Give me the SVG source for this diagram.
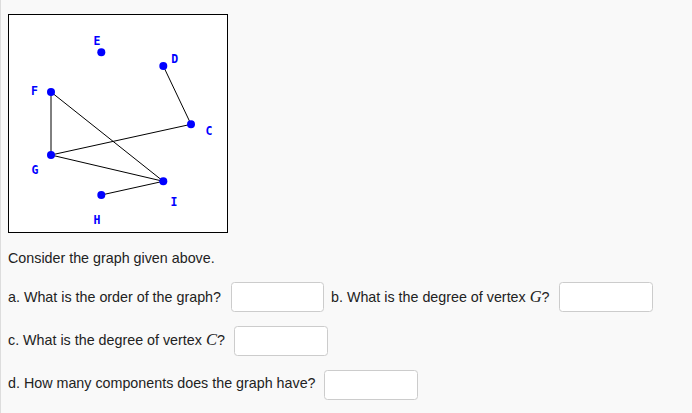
<svg xmlns="http://www.w3.org/2000/svg" width="692" height="413" viewBox="0 0 692 413">
<style>
.lbl{font-family:"DejaVu Sans Mono","Liberation Mono",monospace;font-weight:bold;font-size:11.5px;fill:#0000ff;text-anchor:middle}
.v{fill:#0000ff}
.e{stroke:#000;stroke-width:1;fill:none}
.q{font-family:"Liberation Sans",Arial,sans-serif;font-size:14.3px;fill:#222}
.m{font-family:"Liberation Serif","Times New Roman",serif;font-style:italic;font-size:16.5px}
.box{fill:#fff;stroke:#ccc;stroke-width:1}
</style>
<rect width="692" height="413" fill="#f9f9f9"/>
<line x1="0.5" y1="0" x2="0.5" y2="413" stroke="#ddd"/>
<rect x="8.5" y="14.5" width="219" height="218" fill="#fff" stroke="#000"/>
<g id="edges">
<line class="e" x1="163.3" y1="66" x2="191" y2="124.3"/>
<line class="e" x1="51" y1="92" x2="51" y2="155"/>
<line class="e" x1="51" y1="92" x2="163.3" y2="181.3"/>
<line class="e" x1="51" y1="155" x2="191" y2="124.3"/>
<line class="e" x1="51" y1="155" x2="163.3" y2="181.3"/>
<line class="e" x1="101.3" y1="195" x2="163.3" y2="181.3"/>
</g>
<g id="E"><circle class="v" cx="101.3" cy="52.3" r="4"/><text class="lbl" x="97" y="45">E</text></g>
<g id="D"><circle class="v" cx="163.3" cy="66" r="4"/><text class="lbl" x="174.7" y="63">D</text></g>
<g id="F"><circle class="v" cx="51" cy="92" r="4"/><text class="lbl" x="34.5" y="95">F</text></g>
<g id="C"><circle class="v" cx="191" cy="124.3" r="4"/><text class="lbl" x="209" y="135">C</text></g>
<g id="G"><circle class="v" cx="51" cy="155" r="4"/><text class="lbl" x="35" y="174">G</text></g>
<g id="I"><circle class="v" cx="163.3" cy="181.3" r="4"/><text class="lbl" x="174" y="206">I</text></g>
<g id="H"><circle class="v" cx="101.3" cy="195" r="4"/><text class="lbl" x="97" y="224">H</text></g>
<g id="questions">
<text class="q" x="8" y="263">Consider the graph given above.</text>
<text class="q" x="8" y="302">a. What is the order of the graph?</text>
<rect class="box" x="231.5" y="282.5" width="92" height="29" rx="3"/>
<text class="q" x="331" y="302">b. What is the degree of vertex <tspan class="m">G</tspan>?</text>
<rect class="box" x="559.5" y="282.5" width="93" height="29" rx="3"/>
<text class="q" x="8" y="345">c. What is the degree of vertex <tspan class="m">C</tspan>?</text>
<rect class="box" x="234.5" y="326.5" width="93" height="29" rx="3"/>
<text class="q" x="8" y="388">d. How many components does the graph have?</text>
<rect class="box" x="324.5" y="370.5" width="93" height="29" rx="3"/>
</g>
</svg>
